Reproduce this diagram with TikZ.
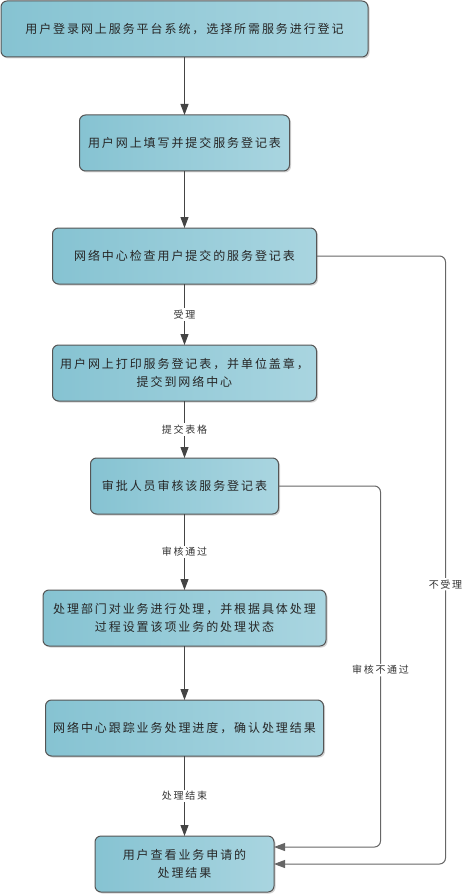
\documentclass[tikz,border=0pt]{standalone}
\usepackage{fontspec}
\newfontfamily\boxfont{Noto Sans CJK SC}[LetterSpace=16]
\newfontfamily\tagfont{Noto Sans CJK SC}[LetterSpace=17]
\usetikzlibrary{positioning,shadows,arrows.meta}

\definecolor{boxdark}{HTML}{86C3D2}
\definecolor{boxlight}{HTML}{A9D5E0}
\definecolor{edge}{HTML}{555555}
\definecolor{tip}{HTML}{444444}

\begin{document}
\begin{tikzpicture}[%
    >={Triangle[length=11pt,width=8pt]}, % Filled arrow heads
    node distance=57pt,                  % Default gap between boxes
    x=1pt, y=1pt,
    ]
\useasboundingbox (0,0) rectangle (463,-896);
% -------------------------------------------------
% Box and connector styles
\tikzset{
  base/.style={draw=edge, line width=1pt, rounded corners=6pt, align=center,
    minimum height=56pt, inner sep=0pt, outer sep=0pt,
    left color=boxdark, right color=boxlight,
    drop shadow={shadow xshift=1.5pt, shadow yshift=-1.5pt, opacity=.35},
    font=\boxfont\fontsize{12pt}{17.3pt}\selectfont, text=black!85},
  stepbox/.style={base},
  % Connector line styles
  norm/.style={->, draw=tip, line width=1pt},
  back/.style={->, draw=black!60, line width=1pt, rounded corners=6pt},
  lbl/.style={fill=white, inner sep=1.5pt,
    font=\tagfont\fontsize{10pt}{12pt}\selectfont, text=black!80}
}
% -------------------------------------------------
% Start by placing the nodes
\node [stepbox, minimum width=367pt] (a) at (184.5,-29) {用户登录网上服务平台系统，选择所需服务进行登记};
\node [stepbox, minimum width=210pt, below=58pt of a] (b) {用户网上填写并提交服务登记表};
\node [stepbox, minimum width=264pt, below=of b] (c) {网络中心检查用户提交的服务登记表};
\node [stepbox, minimum width=264pt, below=61pt of c] (d) {用户网上打印服务登记表，并单位盖章，\\提交到网络中心};
\node [stepbox, minimum width=188pt, below=of d] (e) {审批人员审核该服务登记表};
\node [stepbox, minimum width=283pt, below=76pt of e] (f) {处理部门对业务进行处理，并根据具体处理\\过程设置该项业务的处理状态};
\node [stepbox, minimum width=278pt, below=54pt of f] (g) {网络中心跟踪业务处理进度，确认处理结果};
\node [stepbox, minimum width=179pt, below=80pt of g] (h) {用户查看业务申请的\\处理结果};

\draw[norm] (a) -- (b);
\draw[norm] (b) -- (c);
\draw[norm] (c) -- node[lbl] {受理} (d);
\draw[norm] (d) -- node[lbl] {提交表格} (e);
\draw[norm] (e) -- node[lbl] {审核通过} (f);
\draw[norm] (f) -- (g);
\draw[norm] (g) -- node[lbl] {处理结束} (h);
\draw[back] (c.east) -- ++(129,0) |- node[lbl, pos=.27] {不受理} (h.east);
\draw[back] (e.east) -- ++(102,0) |- node[lbl, pos=.255] {审核不通过} ([yshift=17]h.east);

% -------------------------------------------------
\end{tikzpicture}
\end{document}
